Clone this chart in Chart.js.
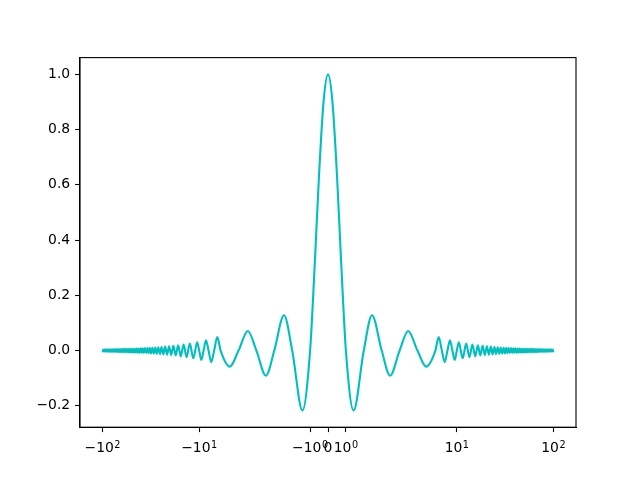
<!DOCTYPE html>
<html>
<head>
<meta charset="utf-8">
<script src="https://cdn.jsdelivr.net/npm/chart.js@4/dist/chart.umd.min.js"></script>
<style>
  body { margin: 0; background: #fff; }
</style>
</head>
<body>
<canvas id="chart" width="640" height="480"></canvas>
<script>
// Right half of the curve (x >= 0); the curve is symmetric about x = 0
const curveX = [0, 0.25, 0.5, 0.75, 1, 1.43, 2, 2.46, 3, 3.47, 4, 4.48, 5, 5.48, 6, 6.49, 7, 7.5, 8, 8.5, 9, 9.5, 10,
  10.5, 11.5, 12.5, 13.5, 14.5, 15.5, 16.5, 17.5, 18.5, 19.5, 20.5, 21.5, 22.5, 23.5, 24.5, 25.5, 26.5, 27.5, 28.5, 29.5,
  30.5, 31.5, 32.5, 33.5, 34.5, 35.5, 36.5, 37.5, 38.5, 39.5, 40.5, 41.5, 42.5, 43.5, 44.5, 45.5, 46.5, 47.5, 48.5, 49.5,
  50.5, 51.5, 52.5, 53.5, 54.5, 55.5, 56.5, 57.5, 58.5, 59.5, 60.5, 61.5, 62.5, 63.5, 64.5, 65.5, 66.5, 67.5, 68.5, 69.5,
  70.5, 71.5, 72.5, 73.5, 74.5, 75.5, 76.5, 77.5, 78.5, 79.5, 80.5, 81.5, 82.5, 83.5, 84.5, 85.5, 86.5, 87.5, 88.5, 89.5,
  90.5, 91.5, 92.5, 93.5, 94.5, 95.5, 96.5, 97.5, 98.5, 99.5, 100];
const curveY = [1.0, 0.900, 0.637, 0.300, 0, -0.217, 0, 0.128, 0, -0.091, 0, 0.071, 0, -0.058, 0, 0.049, 0, -0.042, 0, 0.037, 0, -0.034, 0,
  0.030, -0.028, 0.025, -0.024, 0.022, -0.021, 0.019, -0.018, 0.017, -0.016, 0.0155, -0.0148, 0.0141, -0.0135, 0.013, -0.0125, 0.012, -0.0116, 0.0112, -0.0108,
  0.0104, -0.0101, 0.0098, -0.0095, 0.0092, -0.009, 0.0087, -0.0085, 0.0083, -0.0081, 0.0079, -0.0077, 0.0075, -0.0073, 0.0072, -0.0070, 0.0068, -0.0067, 0.0066, -0.0064,
  0.0063, -0.0062, 0.0061, -0.0060, 0.0058, -0.0057, 0.0056, -0.0055, 0.0054, -0.0053, 0.0053, -0.0052, 0.0051, -0.0050, 0.0049, -0.0049, 0.0048, -0.0047, 0.0046, -0.0046,
  0.0045, -0.0045, 0.0044, -0.0043, 0.0043, -0.0042, 0.0042, -0.0041, 0.0041, -0.0040, 0.0040, -0.0039, 0.0039, -0.0038, 0.0038, -0.0037, 0.0037, -0.0036, 0.0036, -0.0036,
  0.0035, -0.0035, 0.0034, -0.0034, 0.0034, -0.0033, 0.0033, -0.0033, 0.0032, -0.0032, 0];

const xTickValues = [-100, -10, -1, 0, 1, 10, 100];
const xTickBase = ['\u221210', '\u221210', '\u221210', '0', '10', '10', '10'];
const xTickExp = ['2', '1', '0', '', '0', '1', '2'];
const yTickValues = [-0.2, 0.0, 0.2, 0.4, 0.6, 0.8, 1.0];
const yTickLabels = ['\u22120.2', '0.0', '0.2', '0.4', '0.6', '0.8', '1.0'];

const LINTHRESH = 6;
const LINSCALE = 1;
const FONT = '"DejaVu Sans", sans-serif';

// symmetrical log transform, same as matplotlib's symlog
function symlog(v) {
  const adj = LINSCALE / (1 - 1 / 10);
  const a = Math.abs(v);
  if (a <= LINTHRESH) return v * adj;
  return Math.sign(v) * LINTHRESH * (adj + Math.log10(a / LINTHRESH));
}
function symexp(t) {
  const adj = LINSCALE / (1 - 1 / 10);
  const a = Math.abs(t);
  if (a <= LINTHRESH * adj) return t / adj;
  return Math.sign(t) * LINTHRESH * Math.pow(10, a / LINTHRESH - adj);
}

class SymlogScale extends Chart.LinearScale {
  static id = 'symlog';
  static defaults = {};
  buildTicks() {
    return xTickValues.map(v => ({ value: v }));
  }
  configure() {
    super.configure();
    const a = symlog(this.min), b = symlog(this.max);
    const m = (b - a) * 0.05;
    this._t0 = a - m;
    this._t1 = b + m;
  }
  getPixelForValue(v) {
    return this.getPixelForDecimal((symlog(v) - this._t0) / (this._t1 - this._t0));
  }
  getValueForPixel(p) {
    return symexp(this._t0 + this.getDecimalForPixel(p) * (this._t1 - this._t0));
  }
}
Chart.register(SymlogScale);

// build the full curve: mirrored left half, then right half
const points = [];
for (let i = curveX.length - 1; i > 0; i--) points.push({ x: -curveX[i], y: curveY[i] });
for (let i = 0; i < curveX.length; i++) points.push({ x: curveX[i], y: curveY[i] });

// top and right spines
const frame = {
  id: 'frame',
  afterDraw(chart) {
    const { ctx, chartArea: a } = chart;
    ctx.save();
    ctx.strokeStyle = '#000';
    ctx.lineWidth = 1.1;
    ctx.strokeRect(a.left, a.top, a.right - a.left, a.bottom - a.top);
    ctx.restore();
  }
};

// x tick labels with raised exponents like 10^2
const powerLabels = {
  id: 'powerLabels',
  afterDraw(chart) {
    const { ctx } = chart;
    const sx = chart.scales.x;
    const baseY = 452;
    ctx.save();
    ctx.fillStyle = '#000';
    ctx.textBaseline = 'alphabetic';
    ctx.textAlign = 'left';
    xTickValues.forEach((v, i) => {
      const px = sx.getPixelForValue(v);
      ctx.font = '13.9px ' + FONT;
      const wb = ctx.measureText(xTickBase[i]).width;
      ctx.font = '9.7px ' + FONT;
      const we = xTickExp[i] ? ctx.measureText(xTickExp[i]).width + 0.5 : 0;
      const left = px - (wb + we) / 2;
      ctx.font = '13.9px ' + FONT;
      ctx.fillText(xTickBase[i], left, baseY);
      if (xTickExp[i]) {
        ctx.font = '9.7px ' + FONT;
        ctx.fillText(xTickExp[i], left + wb + 0.5, baseY - 4.3);
      }
    });
    ctx.restore();
  }
};

Chart.defaults.font.family = FONT;
Chart.defaults.font.size = 13.9;
Chart.defaults.color = '#000';

new Chart(document.getElementById('chart'), {
  type: 'line',
  data: {
    datasets: [{
      data: points,
      borderColor: '#00bfbf',
      borderWidth: 2.1,
      pointRadius: 0,
      fill: false,
      cubicInterpolationMode: 'monotone'
    }]
  },
  plugins: [frame, powerLabels],
  options: {
    responsive: false,
    animation: false,
    layout: { padding: { left: 0, top: 57.6, right: 64, bottom: 0 } },
    plugins: { legend: { display: false }, tooltip: { enabled: false } },
    scales: {
      x: {
        type: 'symlog',
        grid: { drawOnChartArea: false, drawTicks: true, tickLength: 4.9, tickColor: '#000', tickWidth: 1.1 },
        border: { display: true, color: '#000', width: 1.1 },
        ticks: { display: false, autoSkip: false, maxRotation: 0 },
        afterFit: (s) => { s.height = 52.8; }
      },
      y: {
        min: -0.2775,
        max: 1.0609,
        afterBuildTicks: (s) => { s.ticks = yTickValues.map(v => ({ value: v })); },
        grid: { drawOnChartArea: false, drawTicks: true, tickLength: 4.9, tickColor: '#000', tickWidth: 1.1 },
        border: { display: true, color: '#000', width: 1.1 },
        ticks: {
          padding: 4.9,
          callback: (v) => yTickLabels[yTickValues.indexOf(v)]
        },
        afterFit: (s) => { s.width = 80; }
      }
    }
  }
});
</script>
</body>
</html>
